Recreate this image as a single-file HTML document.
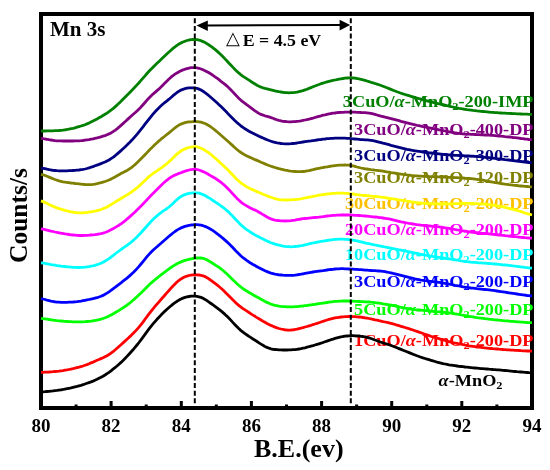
<!DOCTYPE html>
<html><head><meta charset="utf-8"><style>
html,body{margin:0;padding:0;background:#fff;}
svg{display:block;filter:blur(0.35px);}
text{font-family:"Liberation Serif","Times New Roman",serif;font-weight:bold;}
.tl{font-size:19px;text-anchor:middle;}
.sl{font-size:16.3px;text-anchor:end;}
.sub{font-size:11px;}
</style></head><body>
<svg width="550" height="470" viewBox="0 0 550 470">
<rect width="550" height="470" fill="#fff"/>
<g stroke="#000" stroke-width="3">
<line x1="41.0" y1="408" x2="41.0" y2="401"/>
<line x1="76.1" y1="408" x2="76.1" y2="404.5"/>
<line x1="111.1" y1="408" x2="111.1" y2="401"/>
<line x1="146.2" y1="408" x2="146.2" y2="404.5"/>
<line x1="181.3" y1="408" x2="181.3" y2="401"/>
<line x1="216.3" y1="408" x2="216.3" y2="404.5"/>
<line x1="251.4" y1="408" x2="251.4" y2="401"/>
<line x1="286.5" y1="408" x2="286.5" y2="404.5"/>
<line x1="321.6" y1="408" x2="321.6" y2="401"/>
<line x1="356.6" y1="408" x2="356.6" y2="404.5"/>
<line x1="391.7" y1="408" x2="391.7" y2="401"/>
<line x1="426.8" y1="408" x2="426.8" y2="404.5"/>
<line x1="461.8" y1="408" x2="461.8" y2="401"/>
<line x1="496.9" y1="408" x2="496.9" y2="404.5"/>
<line x1="532.0" y1="408" x2="532.0" y2="401"/>
</g>
<rect x="41" y="14" width="491" height="394" fill="none" stroke="#000" stroke-width="4"/>
<g>
<text transform="translate(533.5,107.0) scale(1.12,1)" fill="#008000" class="sl">3CuO/<tspan font-style="italic">α</tspan>-MnO<tspan class="sub" dy="3">2</tspan><tspan dy="-3">-200-IMP</tspan></text>
<text transform="translate(533.5,135.1) scale(1.12,1)" fill="#800080" class="sl">3CuO/<tspan font-style="italic">α</tspan>-MnO<tspan class="sub" dy="3">2</tspan><tspan dy="-3">-400-DP</tspan></text>
<text transform="translate(533.5,161.0) scale(1.12,1)" fill="#000080" class="sl">3CuO/<tspan font-style="italic">α</tspan>-MnO<tspan class="sub" dy="3">2</tspan><tspan dy="-3">-300-DP</tspan></text>
<text transform="translate(533.5,183.0) scale(1.12,1)" fill="#808000" class="sl">3CuO/<tspan font-style="italic">α</tspan>-MnO<tspan class="sub" dy="3">2</tspan><tspan dy="-3">-120-DP</tspan></text>
<text transform="translate(533.5,208.7) scale(1.12,1)" fill="#FFC000" class="sl">30CuO/<tspan font-style="italic">α</tspan>-MnO<tspan class="sub" dy="3">2</tspan><tspan dy="-3">-200-DP</tspan></text>
<text transform="translate(533.5,235.2) scale(1.12,1)" fill="#FF00FF" class="sl">20CuO/<tspan font-style="italic">α</tspan>-MnO<tspan class="sub" dy="3">2</tspan><tspan dy="-3">-200-DP</tspan></text>
<text transform="translate(533.5,259.6) scale(1.12,1)" fill="#00FFFF" class="sl">10CuO/<tspan font-style="italic">α</tspan>-MnO<tspan class="sub" dy="3">2</tspan><tspan dy="-3">-200-DP</tspan></text>
<text transform="translate(533.5,286.7) scale(1.12,1)" fill="#0000FF" class="sl">3CuO/<tspan font-style="italic">α</tspan>-MnO<tspan class="sub" dy="3">2</tspan><tspan dy="-3">-200-DP</tspan></text>
<text transform="translate(533.5,315.3) scale(1.12,1)" fill="#00FF00" class="sl">5CuO/<tspan font-style="italic">α</tspan>-MnO<tspan class="sub" dy="3">2</tspan><tspan dy="-3">-200-DP</tspan></text>
<text transform="translate(533.5,345.7) scale(1.12,1)" fill="#FF0000" class="sl">1CuO/<tspan font-style="italic">α</tspan>-MnO<tspan class="sub" dy="3">2</tspan><tspan dy="-3">-200-DP</tspan></text>
<text transform="translate(502.5,385.5) scale(1.12,1)" fill="#000" class="sl"><tspan font-style="italic">α</tspan>-MnO<tspan class="sub" dy="3.5">2</tspan></text>
</g>
<g fill="none" stroke-width="2.8" stroke-linejoin="round" stroke-linecap="butt">
<path d="M41,131.0 43,131.0 45,131.0 47,130.9 49,130.9 51,130.8 53,130.8 55,130.7 57,130.6 59,130.5 61,130.3 63,130.1 65,129.8 67,129.5 69,129.1 71,128.7 73,128.3 75,127.8 77,127.2 79,126.6 81,126.0 83,125.4 85,124.7 87,123.9 89,123.1 91,122.1 93,121.1 95,120.1 97,119.0 99,117.8 101,116.7 103,115.5 105,114.3 107,113.1 109,111.7 111,110.2 113,108.6 115,106.9 117,105.1 119,103.2 121,101.3 123,99.3 125,97.3 127,95.3 129,93.3 131,91.2 133,89.1 135,87.0 137,84.9 139,82.7 141,80.4 143,78.1 145,75.8 147,73.5 149,71.3 151,69.2 153,67.2 155,65.2 157,63.3 159,61.4 161,59.5 163,57.6 165,55.7 167,53.8 169,52.0 171,50.2 173,48.4 175,46.8 177,45.3 179,44.0 181,42.9 183,42.0 185,41.2 187,40.5 189,40.0 191,39.7 193,39.5 195,39.5 197,39.7 199,40.1 201,40.7 203,41.6 205,42.6 207,43.7 209,45.0 211,46.4 213,47.9 215,49.4 217,51.1 219,52.9 221,54.8 223,56.8 225,58.9 227,61.0 229,63.2 231,65.3 233,67.4 235,69.5 237,71.4 239,73.2 241,74.8 243,76.3 245,77.6 247,78.9 249,80.2 251,81.5 253,82.8 255,84.0 257,85.2 259,86.2 261,87.1 263,87.8 265,88.4 267,88.9 269,89.4 271,89.9 273,90.4 275,90.9 277,91.3 279,91.7 281,92.0 283,92.3 285,92.6 287,92.7 289,92.8 291,92.7 293,92.6 295,92.4 297,92.1 299,91.6 301,91.1 303,90.6 305,89.9 307,89.2 309,88.4 311,87.6 313,86.8 315,86.0 317,85.2 319,84.5 321,83.7 323,83.1 325,82.5 327,81.9 329,81.3 331,80.8 333,80.4 335,80.0 337,79.6 339,79.2 341,78.8 343,78.5 345,78.2 347,78.0 349,77.9 351,77.9 353,78.0 355,78.2 357,78.5 359,78.9 361,79.4 363,79.9 365,80.4 367,81.0 369,81.6 371,82.3 373,82.9 375,83.5 377,84.1 379,84.8 381,85.5 383,86.2 385,87.0 387,87.8 389,88.6 391,89.4 393,90.2 395,91.0 397,91.8 399,92.5 401,93.2 403,93.9 405,94.5 407,95.1 409,95.7 411,96.3 413,96.9 415,97.5 417,98.1 419,98.7 421,99.2 423,99.8 425,100.3 427,100.8 429,101.3 431,101.8 433,102.3 435,102.8 437,103.3 439,103.8 441,104.2 443,104.7 445,105.2 447,105.7 449,106.1 451,106.6 453,107.0 455,107.5 457,107.9 459,108.3 461,108.6 463,109.0 465,109.3 467,109.6 469,109.8 471,110.1 473,110.4 475,110.6 477,110.9 479,111.1 481,111.3 483,111.5 485,111.7 487,111.9 489,112.1 491,112.3 493,112.4 495,112.6 497,112.7 499,112.9 501,113.0 503,113.1 505,113.2 507,113.3 509,113.4 511,113.5 513,113.6 515,113.7 517,113.8 519,113.9 521,114.0 523,114.1 525,114.2 527,114.2 529,114.3 531,114.3 532,114.3" stroke="#008000"/>
<path d="M41,138.4 43,138.6 45,139.0 47,139.3 49,139.7 51,140.0 53,140.3 55,140.6 57,140.8 59,140.9 61,140.9 63,141.0 65,141.0 67,141.0 69,141.0 71,141.0 73,141.0 75,140.9 77,140.9 79,140.8 81,140.7 83,140.5 85,140.2 87,139.9 89,139.6 91,139.2 93,138.8 95,138.3 97,137.9 99,137.4 101,136.8 103,136.2 105,135.6 107,134.8 109,133.9 111,132.9 113,131.7 115,130.3 117,128.8 119,127.2 121,125.4 123,123.6 125,121.8 127,119.9 129,118.1 131,116.3 133,114.5 135,112.8 137,111.0 139,109.1 141,107.0 143,104.8 145,102.5 147,100.2 149,98.0 151,96.0 153,94.1 155,92.4 157,90.6 159,88.9 161,87.0 163,85.0 165,82.9 167,80.9 169,79.0 171,77.2 173,75.6 175,74.2 177,72.9 179,71.8 181,70.8 183,69.9 185,69.2 187,68.6 189,68.1 191,67.7 193,67.6 195,67.6 197,67.9 199,68.3 201,69.0 203,69.8 205,70.7 207,71.7 209,72.8 211,74.0 213,75.4 215,76.8 217,78.2 219,79.7 221,81.3 223,82.8 225,84.4 227,86.1 229,88.0 231,90.0 233,92.1 235,94.3 237,96.4 239,98.5 241,100.3 243,101.9 245,103.4 247,104.9 249,106.3 251,107.8 253,109.3 255,110.8 257,112.2 259,113.4 261,114.4 263,115.1 265,115.8 267,116.3 269,116.9 271,117.6 273,118.3 275,119.1 277,119.8 279,120.4 281,120.9 283,121.3 285,121.5 287,121.7 289,121.8 291,121.8 293,121.7 295,121.6 297,121.3 299,121.1 301,120.8 303,120.4 305,120.0 307,119.6 309,119.2 311,118.6 313,118.1 315,117.5 317,116.9 319,116.3 321,115.8 323,115.2 325,114.8 327,114.3 329,113.9 331,113.5 333,113.2 335,113.0 337,112.7 339,112.5 341,112.4 343,112.3 345,112.2 347,112.1 349,112.1 351,112.1 353,112.1 355,112.2 357,112.3 359,112.3 361,112.5 363,112.6 365,112.7 367,112.9 369,113.1 371,113.4 373,113.9 375,114.4 377,115.0 379,115.6 381,116.2 383,116.7 385,117.2 387,117.7 389,118.2 391,118.7 393,119.2 395,119.7 397,120.2 399,120.7 401,121.3 403,121.8 405,122.3 407,122.8 409,123.3 411,123.8 413,124.3 415,124.8 417,125.3 419,125.7 421,126.2 423,126.6 425,127.0 427,127.4 429,127.8 431,128.2 433,128.6 435,129.0 437,129.4 439,129.8 441,130.2 443,130.6 445,131.0 447,131.4 449,131.8 451,132.2 453,132.5 455,132.8 457,133.1 459,133.4 461,133.6 463,133.8 465,134.0 467,134.1 469,134.2 471,134.3 473,134.4 475,134.5 477,134.6 479,134.7 481,134.8 483,134.9 485,135.0 487,135.1 489,135.2 491,135.3 493,135.4 495,135.6 497,135.8 499,136.0 501,136.1 503,136.3 505,136.6 507,136.8 509,137.0 511,137.2 513,137.5 515,137.7 517,137.9 519,138.2 521,138.5 523,138.7 525,139.0 527,139.2 529,139.5 531,139.7 532,139.8" stroke="#800080"/>
<path d="M41,168.0 43,168.3 45,168.7 47,169.2 49,169.6 51,170.0 53,170.3 55,170.5 57,170.7 59,170.8 61,170.9 63,170.9 65,170.9 67,170.8 69,170.7 71,170.6 73,170.5 75,170.4 77,170.2 79,170.0 81,169.7 83,169.4 85,169.0 87,168.5 89,167.9 91,167.2 93,166.6 95,165.8 97,165.1 99,164.4 101,163.6 103,162.8 105,162.0 107,161.0 109,160.0 111,158.7 113,157.4 115,155.8 117,154.1 119,152.4 121,150.6 123,148.8 125,147.0 127,145.1 129,143.1 131,141.0 133,138.9 135,136.6 137,134.3 139,131.9 141,129.4 143,126.8 145,124.2 147,121.7 149,119.1 151,116.6 153,114.2 155,111.9 157,109.7 159,107.7 161,105.8 163,104.0 165,102.4 167,100.8 169,99.2 171,97.5 173,95.7 175,94.1 177,92.5 179,91.2 181,90.1 183,89.3 185,88.7 187,88.2 189,87.9 191,87.8 193,87.8 195,88.0 197,88.4 199,89.1 201,90.0 203,91.2 205,92.6 207,94.1 209,95.8 211,97.5 213,99.2 215,101.0 217,102.8 219,104.7 221,106.6 223,108.6 225,110.6 227,112.6 229,114.7 231,116.7 233,118.7 235,120.7 237,122.6 239,124.3 241,126.0 243,127.4 245,128.8 247,130.0 249,131.2 251,132.3 253,133.3 255,134.3 257,135.2 259,136.2 261,137.1 263,138.0 265,138.9 267,139.7 269,140.5 271,141.2 273,141.9 275,142.4 277,142.9 279,143.2 281,143.5 283,143.7 285,143.8 287,143.8 289,143.8 291,143.7 293,143.5 295,143.3 297,143.0 299,142.6 301,142.3 303,142.0 305,141.7 307,141.4 309,141.1 311,140.9 313,140.6 315,140.3 317,140.0 319,139.7 321,139.5 323,139.2 325,139.0 327,138.7 329,138.6 331,138.4 333,138.3 335,138.2 337,138.1 339,138.1 341,138.1 343,138.1 345,138.2 347,138.3 349,138.4 351,138.6 353,138.8 355,139.0 357,139.2 359,139.4 361,139.6 363,139.7 365,139.8 367,139.9 369,140.1 371,140.4 373,140.7 375,141.1 377,141.6 379,142.1 381,142.6 383,143.2 385,143.7 387,144.2 389,144.7 391,145.3 393,145.8 395,146.3 397,146.8 399,147.3 401,147.8 403,148.3 405,148.8 407,149.3 409,149.7 411,150.1 413,150.5 415,150.8 417,151.1 419,151.4 421,151.7 423,152.0 425,152.3 427,152.5 429,152.8 431,153.0 433,153.2 435,153.5 437,153.7 439,153.9 441,154.1 443,154.3 445,154.5 447,154.6 449,154.8 451,155.0 453,155.1 455,155.3 457,155.4 459,155.5 461,155.6 463,155.7 465,155.8 467,155.9 469,156.0 471,156.1 473,156.2 475,156.4 477,156.5 479,156.7 481,156.9 483,157.1 485,157.3 487,157.5 489,157.7 491,158.0 493,158.2 495,158.4 497,158.7 499,158.9 501,159.1 503,159.3 505,159.6 507,159.8 509,160.0 511,160.3 513,160.5 515,160.8 517,161.0 519,161.3 521,161.5 523,161.8 525,162.1 527,162.3 529,162.5 531,162.7 532,162.8" stroke="#000080"/>
<path d="M41,174.3 43,174.8 45,175.5 47,176.3 49,177.1 51,177.9 53,178.7 55,179.5 57,180.2 59,180.8 61,181.3 63,181.8 65,182.1 67,182.5 69,182.7 71,183.0 73,183.2 75,183.5 77,183.7 79,183.9 81,184.1 83,184.3 85,184.5 87,184.6 89,184.6 91,184.6 93,184.4 95,184.1 97,183.7 99,183.2 101,182.7 103,182.1 105,181.5 107,180.8 109,180.0 111,179.1 113,178.1 115,177.0 117,175.8 119,174.7 121,173.6 123,172.6 125,171.5 127,170.4 129,169.2 131,167.8 133,166.3 135,164.6 137,162.8 139,160.8 141,158.8 143,156.8 145,154.7 147,152.6 149,150.5 151,148.4 153,146.5 155,144.5 157,142.7 159,140.9 161,139.2 163,137.6 165,136.0 167,134.4 169,132.8 171,131.2 173,129.5 175,127.9 177,126.4 179,125.1 181,124.1 183,123.3 185,122.7 187,122.2 189,121.9 191,121.8 193,121.7 195,121.7 197,121.7 199,121.9 201,122.2 203,122.8 205,123.5 207,124.5 209,125.7 211,127.0 213,128.5 215,130.1 217,131.8 219,133.5 221,135.3 223,137.0 225,138.7 227,140.5 229,142.3 231,144.1 233,145.9 235,147.8 237,149.5 239,151.1 241,152.5 243,153.8 245,154.9 247,155.9 249,156.9 251,157.8 253,158.7 255,159.6 257,160.4 259,161.3 261,162.2 263,163.0 265,163.9 267,164.7 269,165.5 271,166.2 273,166.9 275,167.5 277,168.1 279,168.7 281,169.2 283,169.6 285,170.1 287,170.4 289,170.8 291,171.1 293,171.3 295,171.5 297,171.7 299,171.7 301,171.7 303,171.5 305,171.3 307,170.9 309,170.6 311,170.1 313,169.7 315,169.2 317,168.7 319,168.3 321,167.9 323,167.5 325,167.2 327,166.9 329,166.5 331,166.2 333,165.9 335,165.6 337,165.4 339,165.2 341,165.1 343,165.1 345,165.0 347,165.1 349,165.2 351,165.5 353,165.9 355,166.4 357,167.0 359,167.5 361,168.0 363,168.4 365,168.8 367,169.0 369,169.3 371,169.6 373,169.8 375,170.1 377,170.3 379,170.6 381,170.9 383,171.2 385,171.5 387,171.9 389,172.2 391,172.6 393,172.9 395,173.2 397,173.5 399,173.8 401,174.1 403,174.4 405,174.6 407,174.9 409,175.1 411,175.4 413,175.6 415,175.8 417,175.9 419,176.1 421,176.2 423,176.3 425,176.4 427,176.5 429,176.6 431,176.7 433,176.7 435,176.8 437,176.8 439,176.9 441,177.0 443,177.0 445,177.1 447,177.2 449,177.3 451,177.4 453,177.5 455,177.6 457,177.7 459,177.8 461,177.9 463,178.0 465,178.2 467,178.3 469,178.5 471,178.7 473,178.9 475,179.1 477,179.3 479,179.6 481,179.9 483,180.2 485,180.6 487,181.0 489,181.4 491,181.8 493,182.2 495,182.5 497,182.9 499,183.2 501,183.5 503,183.8 505,184.1 507,184.3 509,184.6 511,184.8 513,185.1 515,185.3 517,185.5 519,185.8 521,186.0 523,186.2 525,186.4 527,186.5 529,186.7 531,186.8 532,186.9" stroke="#808000"/>
<path d="M41,200.9 43,201.6 45,202.5 47,203.4 49,204.4 51,205.4 53,206.3 55,207.1 57,207.9 59,208.6 61,209.2 63,209.8 65,210.4 67,210.9 69,211.4 71,211.8 73,212.2 75,212.5 77,212.7 79,212.8 81,212.8 83,212.8 85,212.6 87,212.4 89,212.1 91,211.8 93,211.5 95,211.1 97,210.6 99,210.1 101,209.5 103,208.7 105,207.9 107,206.9 109,205.8 111,204.6 113,203.4 115,202.1 117,200.9 119,199.7 121,198.5 123,197.3 125,196.1 127,194.9 129,193.7 131,192.4 133,190.9 135,189.4 137,187.8 139,186.1 141,184.3 143,182.3 145,180.4 147,178.4 149,176.6 151,175.0 153,173.5 155,172.1 157,170.8 159,169.4 161,168.1 163,166.6 165,165.1 167,163.5 169,161.7 171,159.9 173,157.9 175,155.9 177,154.1 179,152.4 181,151.0 183,149.8 185,148.9 187,148.1 189,147.5 191,147.0 193,146.8 195,146.7 197,146.9 199,147.5 201,148.2 203,149.2 205,150.3 207,151.6 209,153.0 211,154.5 213,156.2 215,158.0 217,159.8 219,161.6 221,163.5 223,165.3 225,167.2 227,169.1 229,171.1 231,173.2 233,175.3 235,177.4 237,179.4 239,181.3 241,183.0 243,184.4 245,185.7 247,186.9 249,188.0 251,189.0 253,189.9 255,190.8 257,191.6 259,192.5 261,193.3 263,194.2 265,195.0 267,195.8 269,196.6 271,197.3 273,198.0 275,198.7 277,199.2 279,199.6 281,199.8 283,199.9 285,200.0 287,200.0 289,199.9 291,199.9 293,199.7 295,199.6 297,199.3 299,199.1 301,198.8 303,198.4 305,198.0 307,197.6 309,197.2 311,196.8 313,196.4 315,196.0 317,195.6 319,195.2 321,194.9 323,194.6 325,194.3 327,194.0 329,193.8 331,193.6 333,193.4 335,193.3 337,193.2 339,193.1 341,193.1 343,193.2 345,193.3 347,193.4 349,193.6 351,193.8 353,194.0 355,194.3 357,194.6 359,194.8 361,195.1 363,195.3 365,195.5 367,195.7 369,195.9 371,196.1 373,196.3 375,196.5 377,196.7 379,196.9 381,197.2 383,197.4 385,197.7 387,198.0 389,198.3 391,198.6 393,198.9 395,199.2 397,199.5 399,199.9 401,200.2 403,200.5 405,200.8 407,201.2 409,201.5 411,201.8 413,202.1 415,202.4 417,202.6 419,202.9 421,203.0 423,203.2 425,203.3 427,203.5 429,203.6 431,203.7 433,203.8 435,203.9 437,203.9 439,204.0 441,204.0 443,204.0 445,203.9 447,203.9 449,203.9 451,203.8 453,203.8 455,203.7 457,203.6 459,203.6 461,203.5 463,203.5 465,203.5 467,203.4 469,203.4 471,203.5 473,203.5 475,203.6 477,203.7 479,203.8 481,203.9 483,204.1 485,204.2 487,204.4 489,204.6 491,204.9 493,205.1 495,205.4 497,205.8 499,206.1 501,206.5 503,206.9 505,207.4 507,207.8 509,208.3 511,208.8 513,209.3 515,209.8 517,210.4 519,211.0 521,211.6 523,212.3 525,213.0 527,213.6 529,214.2 531,214.7 532,214.9" stroke="#FFFF00"/>
<path d="M41,228.9 43,229.2 45,229.6 47,230.1 49,230.6 51,231.1 53,231.5 55,232.0 57,232.4 59,232.8 61,233.2 63,233.5 65,233.9 67,234.2 69,234.5 71,234.8 73,235.0 75,235.2 77,235.4 79,235.5 81,235.5 83,235.5 85,235.4 87,235.3 89,235.2 91,235.0 93,234.8 95,234.6 97,234.3 99,234.0 101,233.6 103,233.1 105,232.5 107,231.7 109,230.8 111,229.8 113,228.8 115,227.6 117,226.4 119,225.2 121,223.8 123,222.3 125,220.8 127,219.1 129,217.4 131,215.6 133,213.8 135,212.0 137,210.0 139,208.1 141,206.1 143,204.0 145,201.9 147,199.7 149,197.6 151,195.5 153,193.4 155,191.4 157,189.4 159,187.4 161,185.4 163,183.5 165,181.7 167,180.1 169,178.5 171,177.2 173,176.1 175,175.1 177,174.2 179,173.4 181,172.7 183,171.9 185,171.2 187,170.6 189,170.0 191,169.6 193,169.3 195,169.2 197,169.5 199,170.0 201,170.7 203,171.6 205,172.6 207,173.6 209,174.7 211,175.9 213,177.0 215,178.2 217,179.5 219,180.9 221,182.4 223,184.0 225,185.8 227,187.8 229,189.8 231,191.9 233,194.1 235,196.3 237,198.4 239,200.3 241,202.1 243,203.6 245,204.9 247,206.1 249,207.2 251,208.2 253,209.2 255,210.1 257,211.1 259,212.2 261,213.3 263,214.6 265,215.8 267,217.0 269,218.1 271,218.9 273,219.6 275,220.1 277,220.5 279,220.7 281,220.9 283,220.9 285,221.0 287,220.9 289,220.8 291,220.7 293,220.4 295,220.1 297,219.7 299,219.3 301,219.0 303,218.7 305,218.5 307,218.3 309,218.1 311,217.9 313,217.7 315,217.5 317,217.3 319,217.1 321,216.8 323,216.6 325,216.3 327,216.0 329,215.8 331,215.6 333,215.4 335,215.3 337,215.2 339,215.1 341,215.0 343,215.0 345,215.0 347,215.0 349,215.0 351,215.1 353,215.2 355,215.3 357,215.4 359,215.5 361,215.7 363,215.9 365,216.0 367,216.2 369,216.4 371,216.6 373,216.8 375,217.0 377,217.2 379,217.5 381,217.7 383,218.0 385,218.3 387,218.6 389,218.9 391,219.3 393,219.8 395,220.3 397,220.8 399,221.3 401,221.8 403,222.2 405,222.6 407,223.0 409,223.4 411,223.7 413,224.0 415,224.3 417,224.6 419,224.8 421,225.1 423,225.3 425,225.5 427,225.7 429,225.9 431,226.1 433,226.3 435,226.5 437,226.7 439,226.9 441,227.2 443,227.5 445,227.8 447,228.1 449,228.4 451,228.8 453,229.1 455,229.5 457,229.9 459,230.2 461,230.6 463,230.9 465,231.2 467,231.5 469,231.8 471,232.1 473,232.3 475,232.5 477,232.7 479,232.9 481,233.1 483,233.3 485,233.5 487,233.7 489,233.9 491,234.1 493,234.3 495,234.5 497,234.8 499,235.0 501,235.2 503,235.4 505,235.7 507,235.9 509,236.1 511,236.3 513,236.5 515,236.7 517,236.9 519,237.1 521,237.3 523,237.5 525,237.7 527,237.8 529,238.0 531,238.1 532,238.2" stroke="#FF00FF"/>
<path d="M41,262.8 43,263.0 45,263.4 47,263.8 49,264.2 51,264.6 53,264.9 55,265.2 57,265.6 59,265.8 61,266.1 63,266.3 65,266.5 67,266.8 69,266.9 71,267.1 73,267.3 75,267.4 77,267.5 79,267.5 81,267.4 83,267.3 85,267.2 87,266.9 89,266.6 91,266.2 93,265.8 95,265.3 97,264.7 99,264.0 101,263.2 103,262.3 105,261.2 107,259.9 109,258.6 111,257.1 113,255.6 115,254.0 117,252.5 119,251.0 121,249.5 123,248.1 125,246.7 127,245.3 129,243.9 131,242.3 133,240.6 135,238.8 137,236.9 139,234.8 141,232.7 143,230.5 145,228.3 147,226.0 149,223.8 151,221.6 153,219.6 155,217.6 157,215.8 159,214.2 161,212.6 163,211.2 165,209.9 167,208.5 169,207.0 171,205.3 173,203.4 175,201.5 177,199.6 179,197.9 181,196.5 183,195.4 185,194.6 187,193.9 189,193.4 191,193.1 193,192.8 195,192.8 197,192.9 199,193.2 201,193.8 203,194.6 205,195.5 207,196.7 209,197.9 211,199.1 213,200.5 215,201.8 217,203.1 219,204.5 221,206.0 223,207.4 225,209.0 227,210.6 229,212.4 231,214.4 233,216.5 235,218.7 237,220.8 239,222.9 241,224.9 243,226.7 245,228.3 247,229.8 249,231.2 251,232.5 253,233.7 255,234.9 257,236.0 259,237.0 261,238.1 263,239.1 265,240.1 267,241.0 269,241.9 271,242.7 273,243.4 275,244.1 277,244.7 279,245.2 281,245.7 283,246.1 285,246.4 287,246.6 289,246.7 291,246.8 293,246.7 295,246.5 297,246.3 299,246.0 301,245.7 303,245.3 305,244.8 307,244.4 309,243.9 311,243.4 313,243.0 315,242.6 317,242.2 319,241.8 321,241.4 323,241.1 325,240.8 327,240.5 329,240.2 331,239.9 333,239.7 335,239.4 337,239.3 339,239.2 341,239.2 343,239.2 345,239.3 347,239.4 349,239.6 351,239.9 353,240.2 355,240.5 357,240.9 359,241.4 361,241.8 363,242.3 365,242.8 367,243.3 369,243.7 371,244.2 373,244.6 375,245.0 377,245.4 379,245.8 381,246.2 383,246.6 385,247.0 387,247.4 389,247.8 391,248.2 393,248.6 395,249.0 397,249.4 399,249.8 401,250.2 403,250.6 405,251.0 407,251.4 409,251.8 411,252.2 413,252.6 415,253.0 417,253.4 419,253.9 421,254.3 423,254.7 425,255.1 427,255.4 429,255.8 431,256.1 433,256.5 435,256.8 437,257.1 439,257.4 441,257.7 443,258.0 445,258.3 447,258.6 449,258.9 451,259.2 453,259.5 455,259.8 457,260.1 459,260.4 461,260.8 463,261.1 465,261.3 467,261.6 469,261.8 471,262.1 473,262.3 475,262.4 477,262.6 479,262.8 481,262.9 483,263.1 485,263.2 487,263.4 489,263.5 491,263.7 493,263.9 495,264.0 497,264.2 499,264.4 501,264.6 503,264.8 505,265.0 507,265.2 509,265.4 511,265.6 513,265.9 515,266.1 517,266.3 519,266.6 521,266.9 523,267.1 525,267.4 527,267.6 529,267.9 531,268.1 532,268.2" stroke="#00FFFF"/>
<path d="M41,298.6 43,299.0 45,299.5 47,300.1 49,300.6 51,301.1 53,301.5 55,301.8 57,302.1 59,302.2 61,302.3 63,302.3 65,302.3 67,302.3 69,302.2 71,302.1 73,302.0 75,301.8 77,301.6 79,301.3 81,301.1 83,300.7 85,300.3 87,299.9 89,299.5 91,299.1 93,298.7 95,298.2 97,297.7 99,297.0 101,296.3 103,295.4 105,294.3 107,293.1 109,291.8 111,290.4 113,288.9 115,287.4 117,285.8 119,284.3 121,282.8 123,281.2 125,279.7 127,278.1 129,276.4 131,274.6 133,272.7 135,270.7 137,268.6 139,266.4 141,264.0 143,261.6 145,259.1 147,256.7 149,254.4 151,252.3 153,250.3 155,248.5 157,246.8 159,245.0 161,243.3 163,241.5 165,239.8 167,238.0 169,236.3 171,234.6 173,233.0 175,231.5 177,230.1 179,228.9 181,227.9 183,227.1 185,226.4 187,225.8 189,225.4 191,225.0 193,224.8 195,224.7 197,224.7 199,224.8 201,225.2 203,225.7 205,226.4 207,227.3 209,228.3 211,229.4 213,230.7 215,232.1 217,233.6 219,235.1 221,236.7 223,238.4 225,240.1 227,241.9 229,243.7 231,245.7 233,247.8 235,250.0 237,252.1 239,254.1 241,256.0 243,257.7 245,259.2 247,260.7 249,262.0 251,263.3 253,264.5 255,265.6 257,266.7 259,267.8 261,268.8 263,269.8 265,270.8 267,271.6 269,272.4 271,273.1 273,273.6 275,274.1 277,274.5 279,274.8 281,275.0 283,275.2 285,275.3 287,275.4 289,275.4 291,275.4 293,275.3 295,275.1 297,274.8 299,274.5 301,274.2 303,273.8 305,273.4 307,273.0 309,272.7 311,272.3 313,272.0 315,271.7 317,271.4 319,271.1 321,270.8 323,270.6 325,270.3 327,270.0 329,269.7 331,269.5 333,269.3 335,269.0 337,268.9 339,268.8 341,268.7 343,268.7 345,268.8 347,268.9 349,269.0 351,269.1 353,269.2 355,269.3 357,269.4 359,269.6 361,269.7 363,269.9 365,270.1 367,270.2 369,270.4 371,270.5 373,270.6 375,270.7 377,270.9 379,271.0 381,271.2 383,271.4 385,271.7 387,272.1 389,272.5 391,272.9 393,273.4 395,273.8 397,274.3 399,274.8 401,275.3 403,275.8 405,276.3 407,276.8 409,277.4 411,277.9 413,278.4 415,278.9 417,279.3 419,279.7 421,280.1 423,280.4 425,280.7 427,280.9 429,281.2 431,281.4 433,281.6 435,281.9 437,282.1 439,282.4 441,282.7 443,283.0 445,283.4 447,283.7 449,284.1 451,284.5 453,284.9 455,285.3 457,285.6 459,286.0 461,286.4 463,286.8 465,287.1 467,287.4 469,287.7 471,288.0 473,288.2 475,288.4 477,288.7 479,288.9 481,289.1 483,289.3 485,289.5 487,289.7 489,289.9 491,290.2 493,290.4 495,290.7 497,291.0 499,291.3 501,291.6 503,291.9 505,292.2 507,292.5 509,292.8 511,293.1 513,293.4 515,293.7 517,294.0 519,294.3 521,294.6 523,294.9 525,295.2 527,295.5 529,295.7 531,295.9 532,296.0" stroke="#0000FF"/>
<path d="M41,318.3 43,318.6 45,318.9 47,319.2 49,319.5 51,319.8 53,320.1 55,320.4 57,320.7 59,320.9 61,321.0 63,321.2 65,321.4 67,321.5 69,321.6 71,321.7 73,321.8 75,321.9 77,321.9 79,321.9 81,321.9 83,321.8 85,321.7 87,321.5 89,321.3 91,321.1 93,320.8 95,320.5 97,320.1 99,319.7 101,319.1 103,318.5 105,317.8 107,317.0 109,316.0 111,315.0 113,313.9 115,312.7 117,311.6 119,310.4 121,309.1 123,307.8 125,306.5 127,305.1 129,303.6 131,302.0 133,300.3 135,298.6 137,296.7 139,294.8 141,292.9 143,290.9 145,288.9 147,286.9 149,285.0 151,283.1 153,281.4 155,279.7 157,278.1 159,276.5 161,274.9 163,273.4 165,271.8 167,270.4 169,268.9 171,267.5 173,266.2 175,264.9 177,263.8 179,262.8 181,261.9 183,261.1 185,260.4 187,259.8 189,259.3 191,258.9 193,258.5 195,258.2 197,258.0 199,257.9 201,258.0 203,258.3 205,259.0 207,259.9 209,261.0 211,262.2 213,263.5 215,264.8 217,266.1 219,267.4 221,268.9 223,270.5 225,272.2 227,274.0 229,275.9 231,277.9 233,279.9 235,281.8 237,283.7 239,285.5 241,287.1 243,288.6 245,290.0 247,291.2 249,292.5 251,293.6 253,294.8 255,295.9 257,297.0 259,298.1 261,299.2 263,300.3 265,301.4 267,302.4 269,303.3 271,304.1 273,304.8 275,305.3 277,305.7 279,306.1 281,306.4 283,306.6 285,306.7 287,306.8 289,306.9 291,306.9 293,306.8 295,306.7 297,306.6 299,306.4 301,306.2 303,306.0 305,305.7 307,305.5 309,305.2 311,304.9 313,304.6 315,304.3 317,304.0 319,303.7 321,303.4 323,303.1 325,302.8 327,302.5 329,302.2 331,301.9 333,301.7 335,301.4 337,301.3 339,301.1 341,301.1 343,301.0 345,301.0 347,301.0 349,301.0 351,301.1 353,301.2 355,301.3 357,301.4 359,301.5 361,301.6 363,301.7 365,301.8 367,301.9 369,302.0 371,302.2 373,302.3 375,302.6 377,302.8 379,303.1 381,303.4 383,303.8 385,304.1 387,304.5 389,304.8 391,305.2 393,305.6 395,306.0 397,306.4 399,306.9 401,307.3 403,307.7 405,308.1 407,308.5 409,308.8 411,309.1 413,309.3 415,309.6 417,309.8 419,310.0 421,310.2 423,310.4 425,310.5 427,310.7 429,310.9 431,311.1 433,311.3 435,311.5 437,311.7 439,311.8 441,312.0 443,312.2 445,312.5 447,312.7 449,312.9 451,313.2 453,313.5 455,313.8 457,314.1 459,314.5 461,314.9 463,315.2 465,315.6 467,316.0 469,316.3 471,316.6 473,316.9 475,317.3 477,317.6 479,317.8 481,318.1 483,318.4 485,318.7 487,318.9 489,319.2 491,319.4 493,319.6 495,319.8 497,320.0 499,320.2 501,320.4 503,320.6 505,320.8 507,320.9 509,321.1 511,321.3 513,321.4 515,321.6 517,321.8 519,321.9 521,322.1 523,322.2 525,322.3 527,322.5 529,322.6 531,322.7 532,322.7" stroke="#00FF00"/>
<path d="M41,372.3 43,372.3 45,372.2 47,372.1 49,372.0 51,371.8 53,371.7 55,371.5 57,371.3 59,371.1 61,370.8 63,370.6 65,370.2 67,369.9 69,369.5 71,369.1 73,368.7 75,368.2 77,367.7 79,367.2 81,366.6 83,366.0 85,365.3 87,364.6 89,363.8 91,362.9 93,362.1 95,361.2 97,360.3 99,359.5 101,358.6 103,357.7 105,356.7 107,355.7 109,354.5 111,353.2 113,351.7 115,350.0 117,348.3 119,346.5 121,344.7 123,342.9 125,341.1 127,339.3 129,337.4 131,335.6 133,333.6 135,331.6 137,329.4 139,327.1 141,324.7 143,322.1 145,319.3 147,316.6 149,313.9 151,311.3 153,308.8 155,306.4 157,304.1 159,301.8 161,299.5 163,297.3 165,295.0 167,292.7 169,290.5 171,288.2 173,286.0 175,284.0 177,282.0 179,280.4 181,278.9 183,277.8 185,276.8 187,276.1 189,275.5 191,275.1 193,274.9 195,274.8 197,274.8 199,275.0 201,275.3 203,275.8 205,276.6 207,277.7 209,279.0 211,280.4 213,281.9 215,283.4 217,284.9 219,286.5 221,288.2 223,290.1 225,292.0 227,294.1 229,296.1 231,298.1 233,300.1 235,302.0 237,303.9 239,305.6 241,307.1 243,308.6 245,309.9 247,311.2 249,312.5 251,313.8 253,315.1 255,316.3 257,317.6 259,318.8 261,320.0 263,321.2 265,322.3 267,323.4 269,324.4 271,325.4 273,326.3 275,327.1 277,327.9 279,328.5 281,329.0 283,329.4 285,329.8 287,330.0 289,330.1 291,330.0 293,329.8 295,329.5 297,329.1 299,328.6 301,328.1 303,327.6 305,327.0 307,326.5 309,325.9 311,325.3 313,324.6 315,324.0 317,323.4 319,322.7 321,322.0 323,321.3 325,320.7 327,320.0 329,319.4 331,318.9 333,318.4 335,317.9 337,317.6 339,317.3 341,317.0 343,316.8 345,316.7 347,316.6 349,316.5 351,316.5 353,316.6 355,316.7 357,316.8 359,317.0 361,317.2 363,317.5 365,317.8 367,318.1 369,318.5 371,318.9 373,319.3 375,319.8 377,320.2 379,320.7 381,321.1 383,321.6 385,322.0 387,322.4 389,322.9 391,323.4 393,323.9 395,324.5 397,325.1 399,325.7 401,326.3 403,326.9 405,327.5 407,328.1 409,328.7 411,329.4 413,330.0 415,330.7 417,331.4 419,332.1 421,332.8 423,333.5 425,334.2 427,334.9 429,335.6 431,336.3 433,336.9 435,337.5 437,338.1 439,338.7 441,339.3 443,339.9 445,340.5 447,341.1 449,341.6 451,342.1 453,342.6 455,343.0 457,343.4 459,343.8 461,344.2 463,344.6 465,345.0 467,345.4 469,345.8 471,346.1 473,346.4 475,346.7 477,347.0 479,347.2 481,347.4 483,347.7 485,347.9 487,348.1 489,348.3 491,348.5 493,348.7 495,348.8 497,349.0 499,349.2 501,349.3 503,349.5 505,349.6 507,349.8 509,349.9 511,350.1 513,350.2 515,350.3 517,350.4 519,350.5 521,350.7 523,350.8 525,350.9 527,351.0 529,351.0 531,351.1 532,351.1" stroke="#FF0000"/>
<path d="M41,391.9 43,391.8 45,391.7 47,391.5 49,391.3 51,391.1 53,390.9 55,390.6 57,390.4 59,390.1 61,389.8 63,389.5 65,389.1 67,388.7 69,388.3 71,387.9 73,387.4 75,386.9 77,386.4 79,385.8 81,385.3 83,384.7 85,384.0 87,383.3 89,382.6 91,381.9 93,381.1 95,380.2 97,379.3 99,378.3 101,377.3 103,376.2 105,375.0 107,373.6 109,372.3 111,370.8 113,369.2 115,367.6 117,366.0 119,364.2 121,362.4 123,360.5 125,358.5 127,356.4 129,354.2 131,352.0 133,349.8 135,347.4 137,345.0 139,342.5 141,339.9 143,337.2 145,334.4 147,331.6 149,328.9 151,326.4 153,323.9 155,321.6 157,319.3 159,317.2 161,315.1 163,313.1 165,311.1 167,309.3 169,307.5 171,305.8 173,304.2 175,302.7 177,301.3 179,300.1 181,299.0 183,298.1 185,297.4 187,296.8 189,296.5 191,296.2 193,296.2 195,296.2 197,296.4 199,296.8 201,297.4 203,298.3 205,299.4 207,300.7 209,302.1 211,303.5 213,304.9 215,306.3 217,307.8 219,309.3 221,310.9 223,312.6 225,314.4 227,316.3 229,318.3 231,320.4 233,322.6 235,324.7 237,326.8 239,328.8 241,330.6 243,332.2 245,333.7 247,335.0 249,336.4 251,337.7 253,339.0 255,340.2 257,341.5 259,342.8 261,344.1 263,345.3 265,346.4 267,347.4 269,348.2 271,348.8 273,349.3 275,349.5 277,349.7 279,349.9 281,349.9 283,350.0 285,350.0 287,350.0 289,349.9 291,349.9 293,349.7 295,349.6 297,349.3 299,349.0 301,348.7 303,348.2 305,347.8 307,347.2 309,346.7 311,346.1 313,345.6 315,345.0 317,344.4 319,343.8 321,343.2 323,342.5 325,341.8 327,341.1 329,340.4 331,339.7 333,339.1 335,338.4 337,337.9 339,337.4 341,336.9 343,336.5 345,336.2 347,336.0 349,335.8 351,335.7 353,335.7 355,335.8 357,335.9 359,336.0 361,336.3 363,336.5 365,336.9 367,337.4 369,337.9 371,338.5 373,339.2 375,340.0 377,340.7 379,341.5 381,342.2 383,342.9 385,343.5 387,344.1 389,344.8 391,345.5 393,346.2 395,347.0 397,347.8 399,348.6 401,349.4 403,350.2 405,351.0 407,351.8 409,352.6 411,353.4 413,354.2 415,355.0 417,355.8 419,356.5 421,357.2 423,357.9 425,358.5 427,359.1 429,359.7 431,360.3 433,360.9 435,361.5 437,362.1 439,362.6 441,363.1 443,363.6 445,364.0 447,364.4 449,364.8 451,365.1 453,365.4 455,365.7 457,366.0 459,366.3 461,366.5 463,366.7 465,367.0 467,367.2 469,367.4 471,367.6 473,367.8 475,368.0 477,368.2 479,368.4 481,368.6 483,368.7 485,368.9 487,369.0 489,369.2 491,369.3 493,369.5 495,369.6 497,369.8 499,369.9 501,370.1 503,370.3 505,370.5 507,370.7 509,370.9 511,371.1 513,371.3 515,371.5 517,371.7 519,371.8 521,372.0 523,372.2 525,372.4 527,372.5 529,372.7 531,372.8 532,372.9" stroke="#000000"/>
</g>
<g stroke="#000" stroke-width="2" stroke-dasharray="5 2.6">
<line x1="194.8" y1="18.3" x2="194.8" y2="406"/>
<line x1="350.8" y1="18.3" x2="350.8" y2="406"/>
</g>
<g stroke="#000" stroke-width="2">
<line x1="206" y1="25.6" x2="341" y2="24.9"/>
</g>
<path d="M196.5,25.6 L207.8,20.4 L207.8,31 Z" fill="#000"/>
<path d="M350.2,25 L339.6,19.8 L339.6,30.4 Z" fill="#000"/>
<text x="50" y="36" font-size="21px">Mn 3s</text>
<text transform="translate(225.9,44.3) scale(1,1)" style="font-weight:normal" font-size="18px" font-family="Noto Sans CJK SC, sans-serif">△</text>
<text transform="translate(242.7,45.8) scale(1.05,1)" font-size="17px">E = 4.5 eV</text>
<text x="41.0" y="431.5" class="tl">80</text>
<text x="111.1" y="431.5" class="tl">82</text>
<text x="181.3" y="431.5" class="tl">84</text>
<text x="251.4" y="431.5" class="tl">86</text>
<text x="321.6" y="431.5" class="tl">88</text>
<text x="391.7" y="431.5" class="tl">90</text>
<text x="461.8" y="431.5" class="tl">92</text>
<text x="532.0" y="431.5" class="tl">94</text>
<text x="254" y="456.5" font-size="26px">B.E.(ev)</text>
<text transform="translate(26.6,263) rotate(-90)" font-size="25.5px">Counts/s</text>
</svg>
</body></html>
